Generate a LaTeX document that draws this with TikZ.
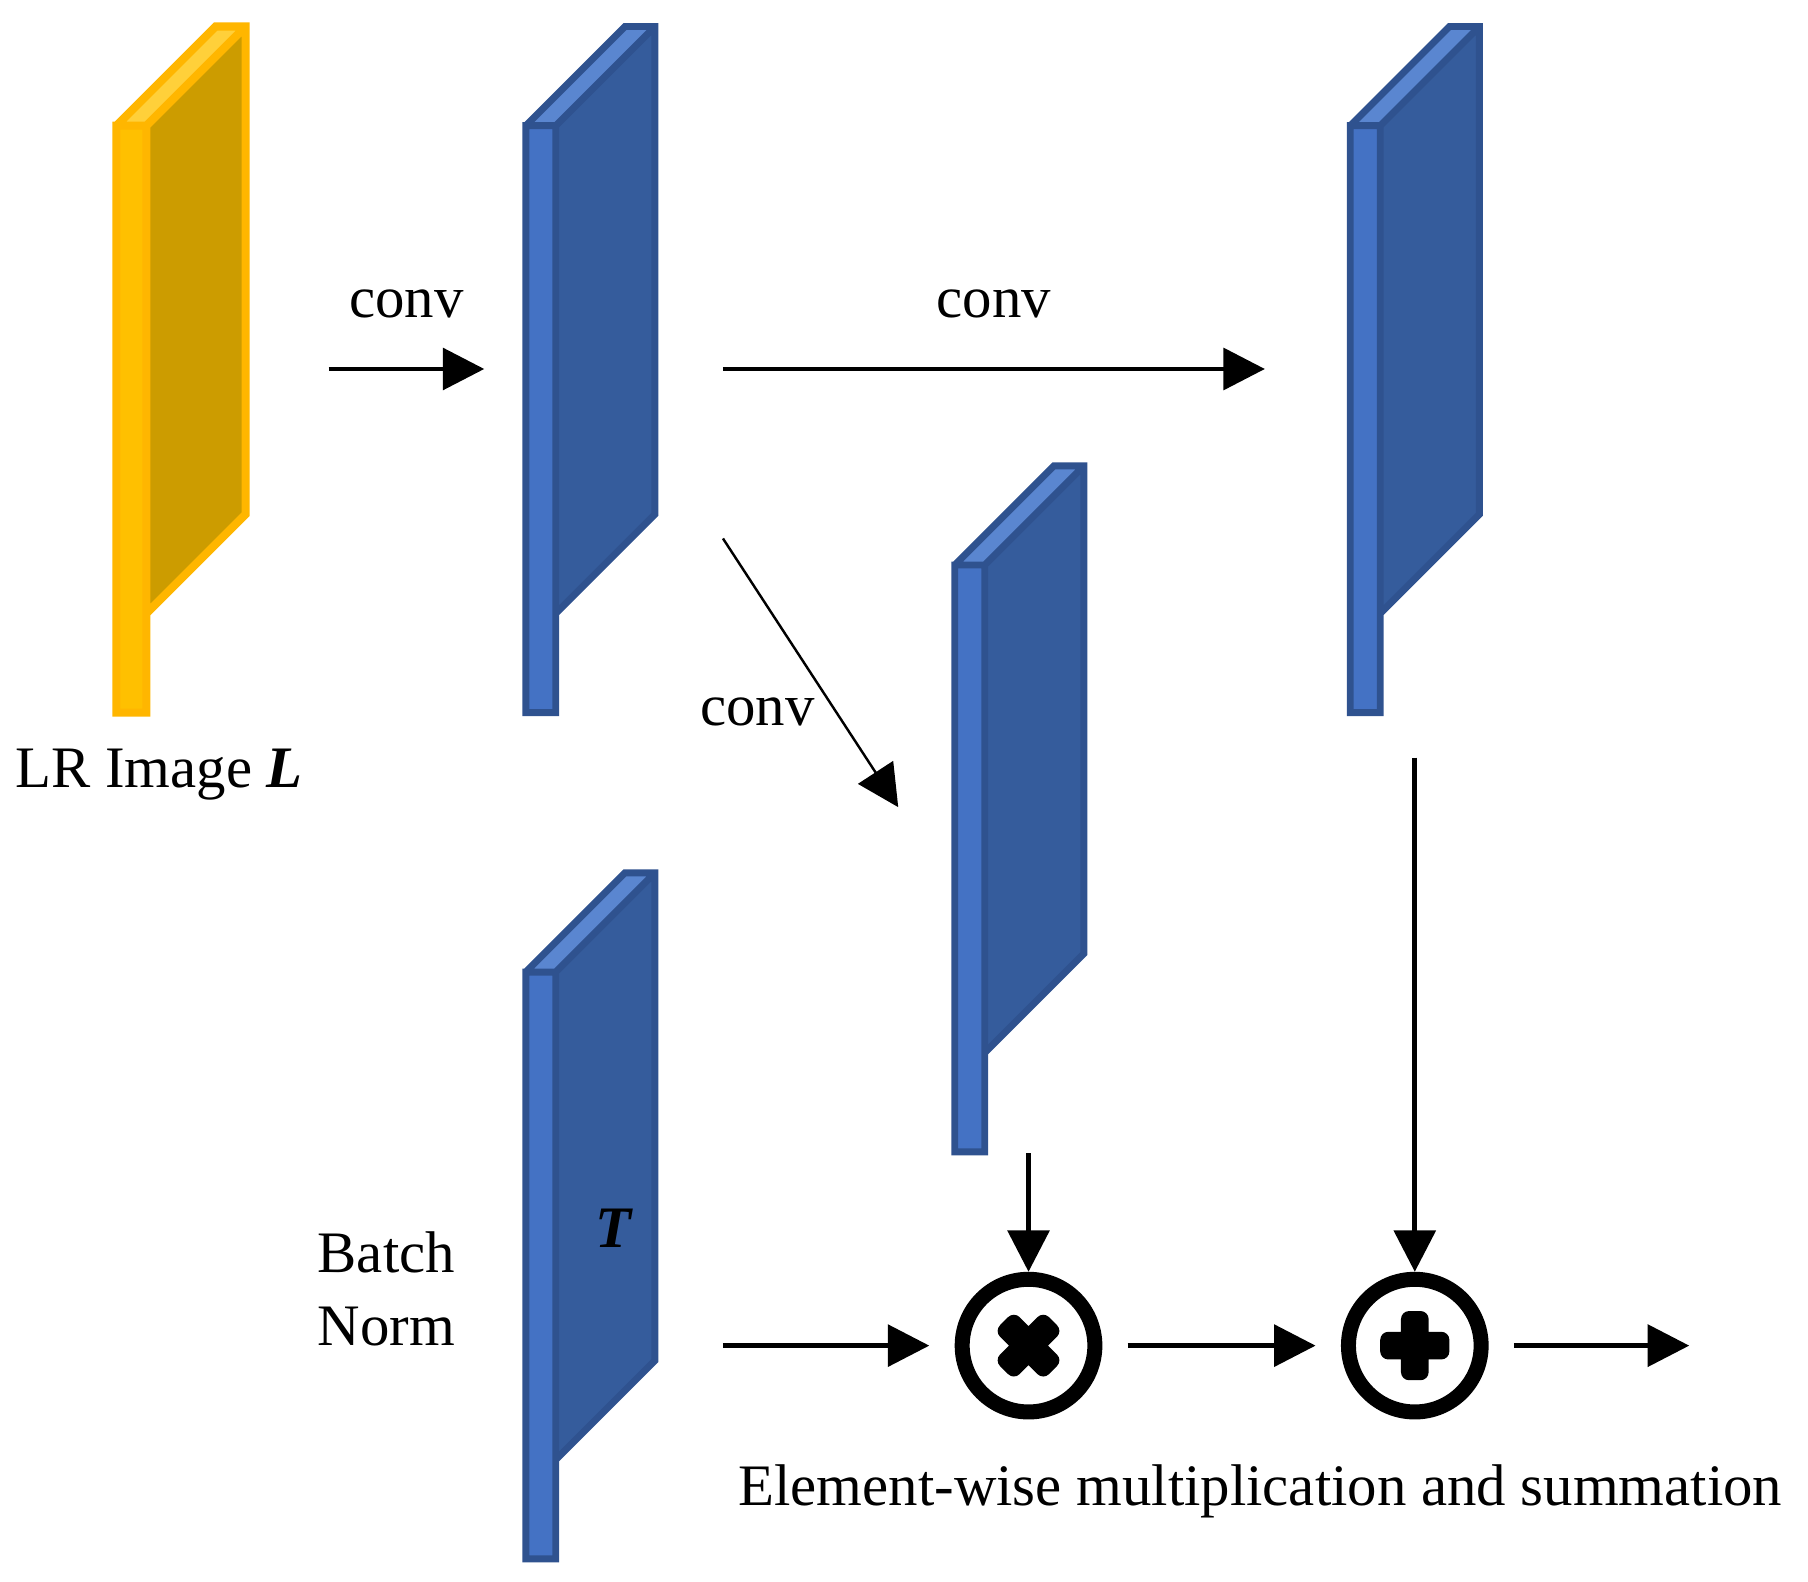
\documentclass[tikz,border=0pt]{standalone}
\usepackage{fontspec}
\setmainfont{Liberation Serif}
\usetikzlibrary{arrows.meta}
\definecolor{yfront}{HTML}{FFC000}
\definecolor{yside}{HTML}{CC9C00}
\definecolor{ytop}{HTML}{FFD03A}
\definecolor{bfront}{HTML}{4472C4}
\definecolor{bside}{HTML}{355C9C}
\definecolor{btop}{HTML}{5A86D0}
\definecolor{bedge}{HTML}{2F528F}
\newcommand{\fmap}[7]{% name, x, y(top of front), colour front, side, top, edge
  \fill[#4] (#2,#3) rectangle ++(26,509);
  \fill[#6] (#2,#3) -- ++(86,-86) -- ++(26,0) -- ++(-86,86) -- cycle;
  \fill[#5] (#2+26,#3) -- ++(86,-86) -- ++(0,423) -- ++(-86,86) -- cycle;
  \draw[#7] (#2,#3) rectangle ++(26,509)
    (#2,#3) -- ++(86,-86) -- ++(26,0) -- ++(0,423) -- ++(-86,86)
    (#2+26,#3) -- ++(86,-86);
  \coordinate (#1) at (#2+56,#3+254);}
\begin{document}
\begin{tikzpicture}[x=0.01cm,y=-0.01cm,font=\fontsize{14.5}{18}\selectfont,
  arr/.style={-{Triangle[length=0.36cm,width=0.36cm]},line width=1.2pt},
  thin arr/.style={-{Triangle[length=0.36cm,width=0.36cm]},line width=0.6pt},
  op/.style={draw,circle,line width=0.13cm,minimum size=1.15cm,inner sep=0pt}]
\useasboundingbox (0,0) rectangle (1568,1372);
% feature maps
\fmap{lr}{101}{109}{yfront}{yside}{ytop}{yfront!85!orange,line width=0.7mm}
\fmap{f1}{456}{109}{bfront}{bside}{btop}{bedge,line width=0.6mm}
\fmap{f2}{828}{490}{bfront}{bside}{btop}{bedge,line width=0.6mm}
\fmap{f3}{1171}{109}{bfront}{bside}{btop}{bedge,line width=0.6mm}
\fmap{tm}{456}{843}{bfront}{bside}{btop}{bedge,line width=0.6mm}
% labels
\node (lrlab) at (138,672) {LR Image \textbf{\textit{L}}};
\node (bn) [align=left] at (335,1118) {Batch\\Norm};
\node (tlab) at (533,1065) {\textbf{\textit{T}}};
\node (ew) at (1093,1293) {Element-wise multiplication and summation};
% operators
\node[op] (mul) at (892,1167) {};
\node[op] (add) at (1227,1167) {};
\fill[rounded corners=2pt,rotate around={45:(892,1167)}] (862,1155) rectangle (922,1179) (880,1137) rectangle (904,1197);
\fill[rounded corners=2pt] (1197,1155) rectangle (1257,1179) (1215,1137) rectangle (1239,1197);
% connectors
\coordinate (c1a) at (285,320); \coordinate (c1b) at (420,320);
\coordinate (c2a) at (627,320); \coordinate (c2b) at (1097,320);
\coordinate (c3a) at (627,467); \coordinate (c3b) at (779,700);
\coordinate (d1) at (892,1000); \coordinate (d2) at (1227,657);
\coordinate (h1) at (627,1167); \coordinate (h2) at (978,1167);
\coordinate (h3) at (1313,1167); \coordinate (out) at (1465,1167);
\draw[arr] (c1a) -- node[above=0.3cm] {conv} (c1b);
\draw[arr] (c2a) -- node[above=0.3cm] {conv} (c2b);
\draw[thin arr] (c3a) -- (c3b);
\node (conv3) at (657,617) {conv};
\draw[arr] (d1) -- (mul);
\draw[arr] (d2) -- (add);
\draw[arr] (h1) -- ([xshift=-0.22cm]mul.west);
\draw[arr] (h2) -- ([xshift=-0.22cm]add.west);
\draw[arr] (h3) -- (out);
\end{tikzpicture}
\end{document}
